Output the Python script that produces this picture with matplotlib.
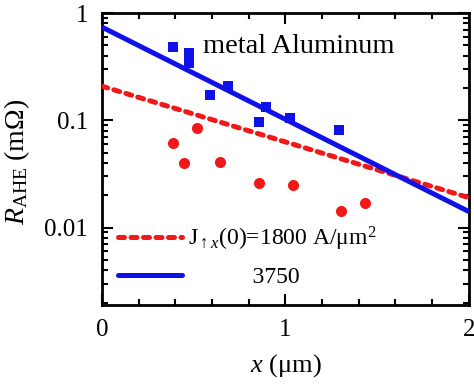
import matplotlib
matplotlib.use("Agg")
import matplotlib.pyplot as plt
from matplotlib.ticker import FixedLocator, LogLocator, MultipleLocator, FixedFormatter, NullFormatter
from matplotlib.lines import Line2D

plt.rcParams['font.family'] = ['Liberation Serif', 'DejaVu Serif']
plt.rcParams['mathtext.fontset'] = 'custom'
plt.rcParams['mathtext.rm'] = 'Liberation Serif'
plt.rcParams['mathtext.it'] = 'Liberation Serif:italic'

# data
blue_x = [0.39, 0.474, 0.474, 0.589, 0.687, 0.856, 0.894, 1.025, 1.29]
blue_y = [0.48, 0.42, 0.34, 0.171, 0.208, 0.096, 0.132, 0.104, 0.082]
red_x = [0.39, 0.447, 0.518, 0.643, 0.856, 1.041, 1.302, 1.433]
red_y = [0.061, 0.040, 0.084, 0.041, 0.026, 0.025, 0.0144, 0.0168]
fit_x = [0.0, 2.0]
blue_fit = [0.74, 0.0141]
red_fit = [0.208, 0.019]
yticks = [0.01, 0.1, 1]
ytick_labels = ['0.01', '0.1', '1']
xticks = [0, 1, 2]
xtick_labels = ['0', '1', '2']

BLUE = '#1010e8'
RED = '#f01818'

fig = plt.figure(figsize=(4.74, 3.84), dpi=100)
ax = fig.add_axes([0.215, 0.206, 0.774, 0.760])

ax.plot(fit_x, red_fit, color=RED, lw=3.6, ls=(0, (1.2, 1.3)), dash_capstyle='round', zorder=3)
ax.plot(fit_x, blue_fit, color=BLUE, lw=3.6, solid_capstyle='butt', zorder=3)
ax.plot(blue_x, blue_y, 's', color=BLUE, ms=7, mew=0, zorder=4)
ax.plot(red_x, red_y, 'o', color=RED, ms=8, mew=0, zorder=4)

ax.set_yscale('log')
ax.set_xlim(0, 2)
ax.set_ylim(0.0019, 1)

ax.xaxis.set_major_locator(FixedLocator(xticks))
ax.xaxis.set_major_formatter(FixedFormatter(xtick_labels))
ax.xaxis.set_minor_locator(MultipleLocator(0.2))
ax.yaxis.set_major_locator(FixedLocator(yticks))
ax.yaxis.set_major_formatter(FixedFormatter(ytick_labels))
ax.yaxis.set_minor_locator(LogLocator(base=10, subs=range(2, 10)))
ax.yaxis.set_minor_formatter(NullFormatter())

ax.tick_params(which='both', direction='in', top=True, right=True, width=1.5, labelsize=18, pad=10)
ax.tick_params(which='major', length=8)
ax.tick_params(which='minor', length=4.5)
for s in ax.spines.values():
    s.set_linewidth(2)

ax.set_xlabel(r'$x$ ($\mathrm{\mu}$m)', fontsize=19, labelpad=8)
ax.set_ylabel(r'$R_{\mathrm{AHE}}$ (m$\Omega$)', fontsize=20)
ax.yaxis.set_label_coords(-0.19, 0.49)

ax.text(0.275, 0.885, 'metal Aluminum', transform=ax.transAxes, fontsize=20.5, va='center', ha='left')

handles = [Line2D([], [], color=RED, lw=3.6, ls=(0, (1.2, 1.3)), dash_capstyle='round'),
           Line2D([], [], color=BLUE, lw=3.6, solid_capstyle='round')]
labels = [r'J$_{\uparrow x}$(0)=1800 A/$\mathrm{\mu}$m$^2$', '           3750']
leg = ax.legend(handles, labels, loc='lower left', bbox_to_anchor=(0.0, 0.0), frameon=False,
                fontsize=17, handlelength=2.7, handletextpad=0.25, labelspacing=0.6,
                borderaxespad=0.3)

fig.savefig('out.png', dpi=100)
